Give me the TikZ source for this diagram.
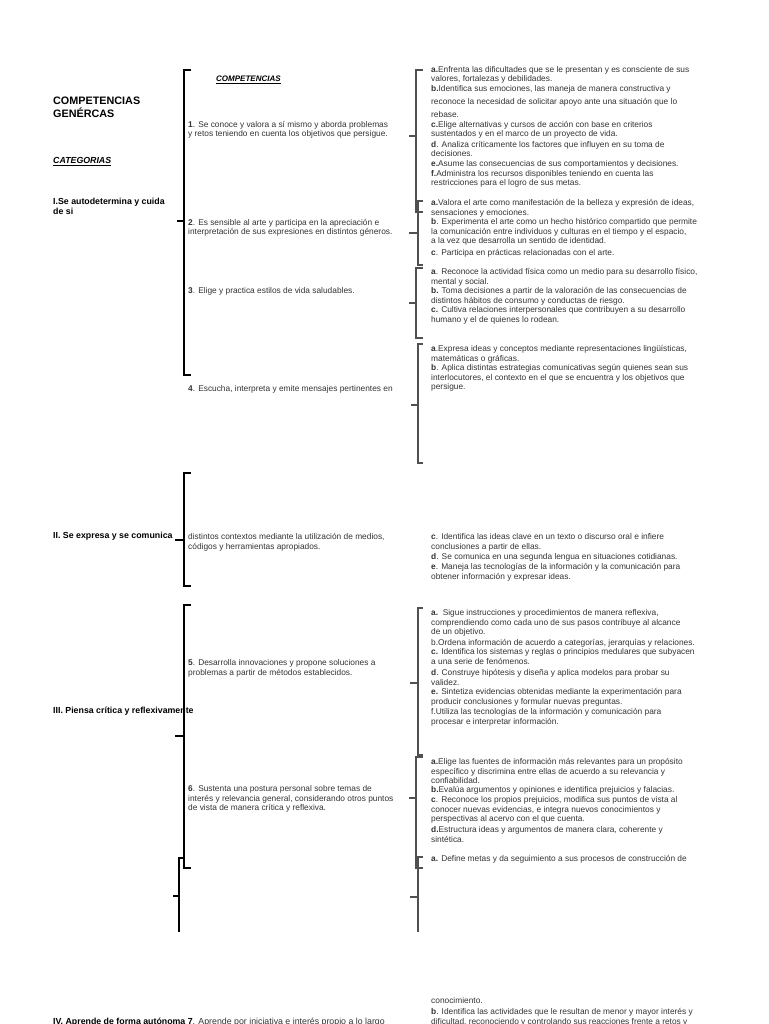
\documentclass[tikz,border=0pt]{standalone}
\usepackage{fontspec}
\setmainfont{Liberation Sans}
\definecolor{txt}{HTML}{333333}
\definecolor{rline}{HTML}{505050}
\newcommand{\mlines}[1]{\begin{tabular}[t]{@{}l@{}}#1\end{tabular}}
\tikzset{
  body/.style={anchor=base west, inner sep=0pt, yshift=-1.3pt, text=txt, font=\fontsize{8.35}{9.7}\selectfont},
  bodywide/.style={body, font=\fontsize{8.35}{13}\selectfont},
  cat/.style={anchor=base west, inner sep=0pt, text=black, font=\fontsize{8.8}{10.2}\selectfont\bfseries},
  title/.style={anchor=base west, inner sep=0pt, text=black, font=\fontsize{10.8}{12}\selectfont\bfseries},
  lbr/.style={draw=black, line width=1.1pt},
  rbr/.style={draw=rline, line width=1.1pt},
}
\begin{document}
\begin{tikzpicture}[x=1pt,y=-1pt]
\useasboundingbox (0,0) rectangle (768,1024);
\fill[white] (0,0) rectangle (768,1024);

% ---------- left labels ----------
\node[title] (tit) at (53,104.5) {\mlines{COMPETENCIAS\\GENÉRCAS}};
\node[cat] (cats) at (53,164) {\textit{\underline{CATEGORIAS}}};
\node[cat] (c1) at (53,204.5) {\mlines{I.Se autodetermina y cuida\\de si}};
\node[cat] (c2) at (53,538) {II. Se expresa y se comunica};
\node[cat] (c3) at (53,713) {III. Piensa crítica y reflexivamente};
\node[cat] (c4) at (53,1024) {IV. Aprende de forma autónoma 7\mdseries\color{txt}. Aprende por iniciativa e interés propio a lo largo};

% ---------- left brackets ----------
\draw[lbr] (191,70) -- (184,70) -- (184,375) -- (191,375);
\draw[lbr] (177,221) -- (184,221);
\draw[lbr] (191,473) -- (184,473) -- (184,586) -- (191,586);
\draw[lbr] (175,540) -- (184,540);
\draw[lbr] (191,605) -- (184,605) -- (184,868) -- (191,868);
\draw[lbr] (175,736) -- (184,736);
\draw[lbr] (184,858) -- (179,858) -- (179,932);
\draw[lbr] (173,896) -- (179,896);

% ---------- competencias ----------
\node[cat, font=\fontsize{8}{9}\selectfont\bfseries] (hdr) at (216,82) {\textit{\underline{COMPETENCIAS}}};
\node[body] (k1) at (188,126) {\mlines{\textbf{1}. Se conoce y valora a sí mismo y aborda problemas\\y retos teniendo en cuenta los objetivos que persigue.}};
\node[body] (k2) at (188,224) {\mlines{\textbf{2}. Es sensible al arte y participa en la apreciación e\\interpretación de sus expresiones en distintos géneros.}};
\node[body] (k3) at (188,292) {\textbf{3}. Elige y practica estilos de vida saludables.};
\node[body] (k4) at (188,390) {\textbf{4}. Escucha, interpreta y emite mensajes pertinentes en};
\node[body] (k4b) at (188,538) {\mlines{distintos contextos mediante la utilización de medios,\\códigos y herramientas apropiados.}};
\node[body] (k5) at (188,664) {\mlines{\textbf{5}. Desarrolla innovaciones y propone soluciones a\\problemas a partir de métodos establecidos.}};
\node[body] (k6) at (188,790) {\mlines{\textbf{6}. Sustenta una postura personal sobre temas de\\interés y relevancia general, considerando otros puntos\\de vista de manera crítica y reflexiva.}};

% ---------- right brackets ----------
\draw[rbr] (423,70) -- (416,70) -- (416,212) -- (423,212);
\draw[rbr] (409,136) -- (416,136);
\draw[rbr] (423,201) -- (418,201) -- (418,265) -- (423,265);
\draw[rbr] (409,233) -- (418,233);
\draw[rbr] (423,268) -- (416,268) -- (416,338) -- (423,338);
\draw[rbr] (409,303) -- (416,303);
\draw[rbr] (423,344) -- (418,344) -- (418,463) -- (423,463);
\draw[rbr] (411,405) -- (418,405);
\draw[rbr] (423,608) -- (418,608) -- (418,755) -- (423,755);
\draw[rbr] (410,683) -- (418,683);
\draw[rbr] (423,757) -- (416,757) -- (416,868) -- (423,868);
\draw[rbr] (409,798) -- (416,798);
\draw[rbr] (423,857) -- (418,857) -- (418,932);
\draw[rbr] (410,897) -- (418,897);

% ---------- right column ----------
\node[body] (r1a) at (431,71) {\mlines{\textbf{a.}Enfrenta las dificultades que se le presentan y es consciente de sus\\valores, fortalezas y debilidades.}};
\node[bodywide] (r1b) at (431,90) {\mlines{\textbf{b.}Identifica sus emociones, las maneja de manera constructiva y\\reconoce la necesidad de solicitar apoyo ante una situación que lo\\rebase.}};
\node[body] (r1c) at (431,126) {\mlines{\textbf{c.}Elige alternativas y cursos de acción con base en criterios\\sustentados y en el marco de un proyecto de vida.}};
\node[body] (r1d) at (431,146) {\mlines{\textbf{d}. Analiza críticamente los factores que influyen en su toma de\\decisiones.}};
\node[body] (r1e) at (431,165) {\textbf{e.}Asume las consecuencias de sus comportamientos y decisiones.};
\node[body] (r1f) at (431,175) {\mlines{\textbf{f.}Administra los recursos disponibles teniendo en cuenta las\\restricciones para el logro de sus metas.}};

\node[body] (r2a) at (431,204) {\mlines{\textbf{a.}Valora el arte como manifestación de la belleza y expresión de ideas,\\sensaciones y emociones.}};
\node[body] (r2b) at (431,223) {\mlines{\textbf{b}. Experimenta el arte como un hecho histórico compartido que permite\\la comunicación entre individuos y culturas en el tiempo y el espacio,\\a la vez que desarrolla un sentido de identidad.}};
\node[body] (r2c) at (431,254) {\textbf{c}. Participa en prácticas relacionadas con el arte.};

\node[body] (r3a) at (431,273) {\mlines{\textbf{a}. Reconoce la actividad física como un medio para su desarrollo físico,\\mental y social.}};
\node[body] (r3b) at (431,292) {\mlines{\textbf{b.} Toma decisiones a partir de la valoración de las consecuencias de\\distintos hábitos de consumo y conductas de riesgo.}};
\node[body] (r3c) at (431,311) {\mlines{\textbf{c.} Cultiva relaciones interpersonales que contribuyen a su desarrollo\\humano y el de quienes lo rodean.}};

\node[body] (r4a) at (431,350) {\mlines{\textbf{a}.Expresa ideas y conceptos mediante representaciones lingüísticas,\\matemáticas o gráficas.}};
\node[body] (r4b) at (431,369) {\mlines{\textbf{b}. Aplica distintas estrategias comunicativas según quienes sean sus\\interlocutores, el contexto en el que se encuentra y los objetivos que\\persigue.}};

\node[body] (r4c) at (431,538) {\mlines{\textbf{c}. Identifica las ideas clave en un texto o discurso oral e infiere\\conclusiones a partir de ellas.}};
\node[body] (r4d) at (431,558) {\textbf{d}. Se comunica en una segunda lengua en situaciones cotidianas.};
\node[body] (r4e) at (431,568) {\mlines{\textbf{e}. Maneja las tecnologías de la información y la comunicación para\\obtener información y expresar ideas.}};

\node[body] (r5a) at (431,614) {\mlines{\textbf{a.}\ \ Sigue instrucciones y procedimientos de manera reflexiva,\\comprendiendo como cada uno de sus pasos contribuye al alcance\\de un objetivo.}};
\node[body] (r5b) at (431,644) {b.Ordena información de acuerdo a categorías, jerarquías y relaciones.};
\node[body] (r5c) at (431,653) {\mlines{\textbf{c.} Identifica los sistemas y reglas o principios medulares que subyacen\\a una serie de fenómenos.}};
\node[body] (r5d) at (431,674) {\mlines{\textbf{d}. Construye hipótesis y diseña y aplica modelos para probar su\\validez.}};
\node[body] (r5e) at (431,693) {\mlines{\textbf{e.} Sintetiza evidencias obtenidas mediante la experimentación para\\producir conclusiones y formular nuevas preguntas.}};
\node[body] (r5f) at (431,713) {\mlines{f.Utiliza las tecnologías de la información y comunicación para\\procesar e interpretar información.}};

\node[body] (r6a) at (431,763) {\mlines{\textbf{a.}Elige las fuentes de información más relevantes para un propósito\\específico y discrimina entre ellas de acuerdo a su relevancia y\\confiabilidad.}};
\node[body] (r6b) at (431,791) {\textbf{b.}Evalúa argumentos y opiniones e identifica prejuicios y falacias.};
\node[body] (r6c) at (431,801) {\mlines{\textbf{c}. Reconoce los propios prejuicios, modifica sus puntos de vista al\\conocer nuevas evidencias, e integra nuevos conocimientos y\\perspectivas al acervo con el que cuenta.}};
\node[body] (r6d) at (431,831) {\mlines{\textbf{d.}Estructura ideas y argumentos de manera clara, coherente y\\sintética.}};
\node[body] (r7a) at (431,860) {\textbf{a.} Define metas y da seguimiento a sus procesos de construcción de};

\node[body] (r7b) at (431,1002) {conocimiento.};
\node[body] (r7c) at (431,1013) {\mlines{\textbf{b}. Identifica las actividades que le resultan de menor y mayor interés y\\dificultad, reconociendo y controlando sus reacciones frente a retos y}};
\end{tikzpicture}
\end{document}
